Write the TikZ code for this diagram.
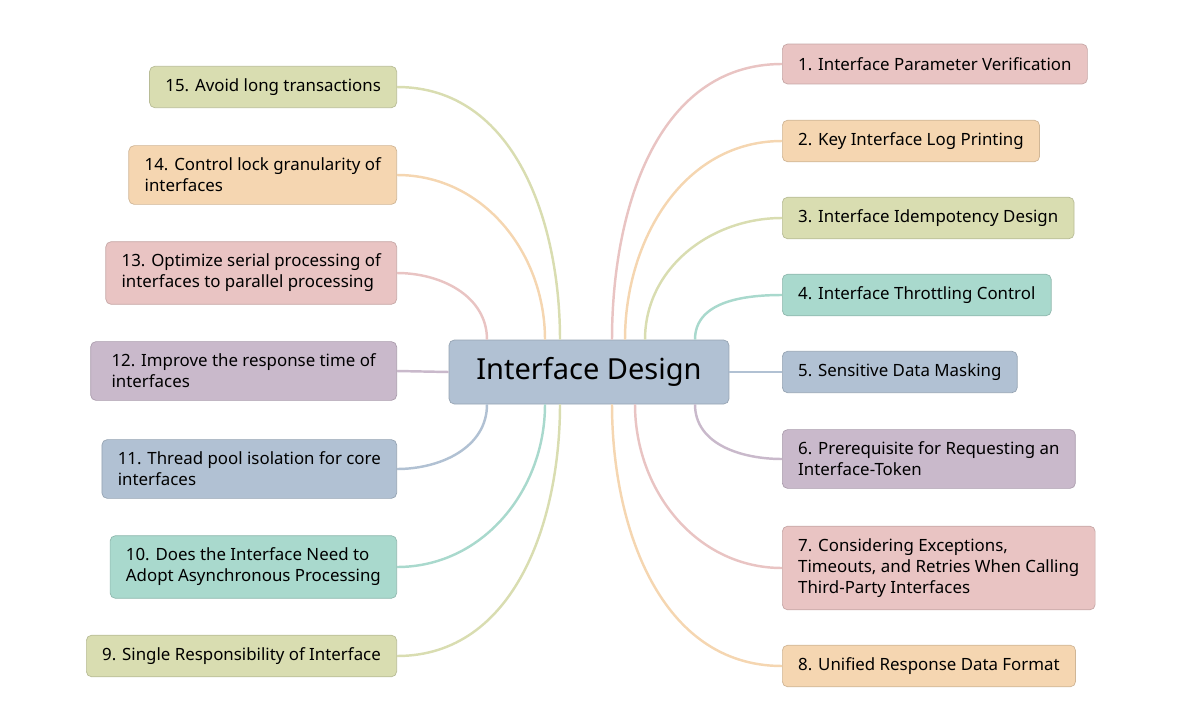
\documentclass[tikz,border=0pt]{standalone}
\usepackage{fontspec}
\setmainfont{Noto Sans}
\usetikzlibrary{calc}
\definecolor{cpink}{HTML}{E9C4C3}
\definecolor{corange}{HTML}{F5D6B1}
\definecolor{cgreen}{HTML}{D9DDB1}
\definecolor{cteal}{HTML}{A9D9CD}
\definecolor{cblue}{HTML}{B1C1D3}
\definecolor{cpurple}{HTML}{C9B9CB}
\begin{document}
\begin{tikzpicture}[x=0.02cm, y=-0.02cm,
        topic/.style={rectangle, rounded corners=3pt, draw=#1!85!black, line width=0.4pt, fill=#1, align=left,
            inner xsep=9pt, inner ysep=7pt, minimum height=0.8cm, font=\fontsize{9.6}{12}\selectfont},
        branch/.style={line width=1.4pt, #1}
    ]
    \useasboundingbox (0,0) rectangle (1200,717);
    % centre
    \node (c) [rectangle, rounded corners=3pt, draw=cblue!85!black, fill=cblue, minimum width=5.6cm, minimum height=1.28cm,
        font=\fontsize{16.5}{20}\selectfont] at (589,372) {Interface Design};

    % right side
    \node (r1) [topic=cpink, anchor=west] at (782,64) {1. Interface Parameter Verification};
    \node (r2) [topic=corange, anchor=west] at (782,141) {2. Key Interface Log Printing};
    \node (r3) [topic=cgreen, anchor=west] at (782,218) {3. Interface Idempotency Design};
    \node (r4) [topic=cteal, anchor=west] at (782,295) {4. Interface Throttling Control};
    \node (r5) [topic=cblue, anchor=west] at (782,372) {5. Sensitive Data Masking};
    \node (r6) [topic=cpurple, anchor=west] at (782,459) {6. Prerequisite for Requesting an\\Interface-Token};
    \node (r7) [topic=cpink, anchor=west] at (782,568) {7. Considering Exceptions,\\Timeouts, and Retries When Calling\\Third-Party Interfaces};
    \node (r8) [topic=corange, anchor=west] at (782,666) {8. Unified Response Data Format};

    % left side
    \node (l15) [topic=cgreen, anchor=east] at (397,87) {15. Avoid long transactions};
    \node (l14) [topic=corange, anchor=east] at (397,175) {14. Control lock granularity of\\interfaces};
    \node (l13) [topic=cpink, anchor=east] at (397,273) {13. Optimize serial processing of\\interfaces to parallel processing};
    \node (l12) [topic=cpurple, anchor=east, minimum width=6.12cm] at (397,371) {12. Improve the response time of\\interfaces};
    \node (l11) [topic=cblue, anchor=east] at (397,469) {11. Thread pool isolation for core\\interfaces};
    \node (l10) [topic=cteal, anchor=east] at (397,567) {10. Does the Interface Need to\\Adopt Asynchronous Processing};
    \node (l9) [topic=cgreen, anchor=east] at (397,656) {9. Single Responsibility of Interface};

    % branches
    \draw[branch=cpink] ($(c.north)+(23,0)$) to[out=90, in=180] (r1.west);
    \draw[branch=corange] ($(c.north)+(36,0)$) to[out=90, in=180] (r2.west);
    \draw[branch=cgreen] ($(c.north)+(56,0)$) to[out=90, in=180] (r3.west);
    \draw[branch=cteal] ($(c.north)+(106,0)$) to[out=90, in=180] (r4.west);
    \draw[branch=cblue] (c.east) -- (r5.west);
    \draw[branch=cpurple] ($(c.south)+(106,0)$) to[out=-90, in=180] (r6.west);
    \draw[branch=cpink] ($(c.south)+(46,0)$) to[out=-90, in=180] (r7.west);
    \draw[branch=corange] ($(c.south)+(23,0)$) to[out=-90, in=180] (r8.west);
    \draw[branch=cgreen] ($(c.north)+(-29,0)$) to[out=90, in=0] (l15.east);
    \draw[branch=corange] ($(c.north)+(-44,0)$) to[out=90, in=0] (l14.east);
    \draw[branch=cpink] ($(c.north)+(-102,0)$) to[out=90, in=0] (l13.east);
    \draw[branch=cpurple] (c.west) -- (l12.east);
    \draw[branch=cblue] ($(c.south)+(-102,0)$) to[out=-90, in=0] (l11.east);
    \draw[branch=cteal] ($(c.south)+(-44,0)$) to[out=-90, in=0] (l10.east);
    \draw[branch=cgreen] ($(c.south)+(-29,0)$) to[out=-90, in=0] (l9.east);
\end{tikzpicture}
\end{document}
